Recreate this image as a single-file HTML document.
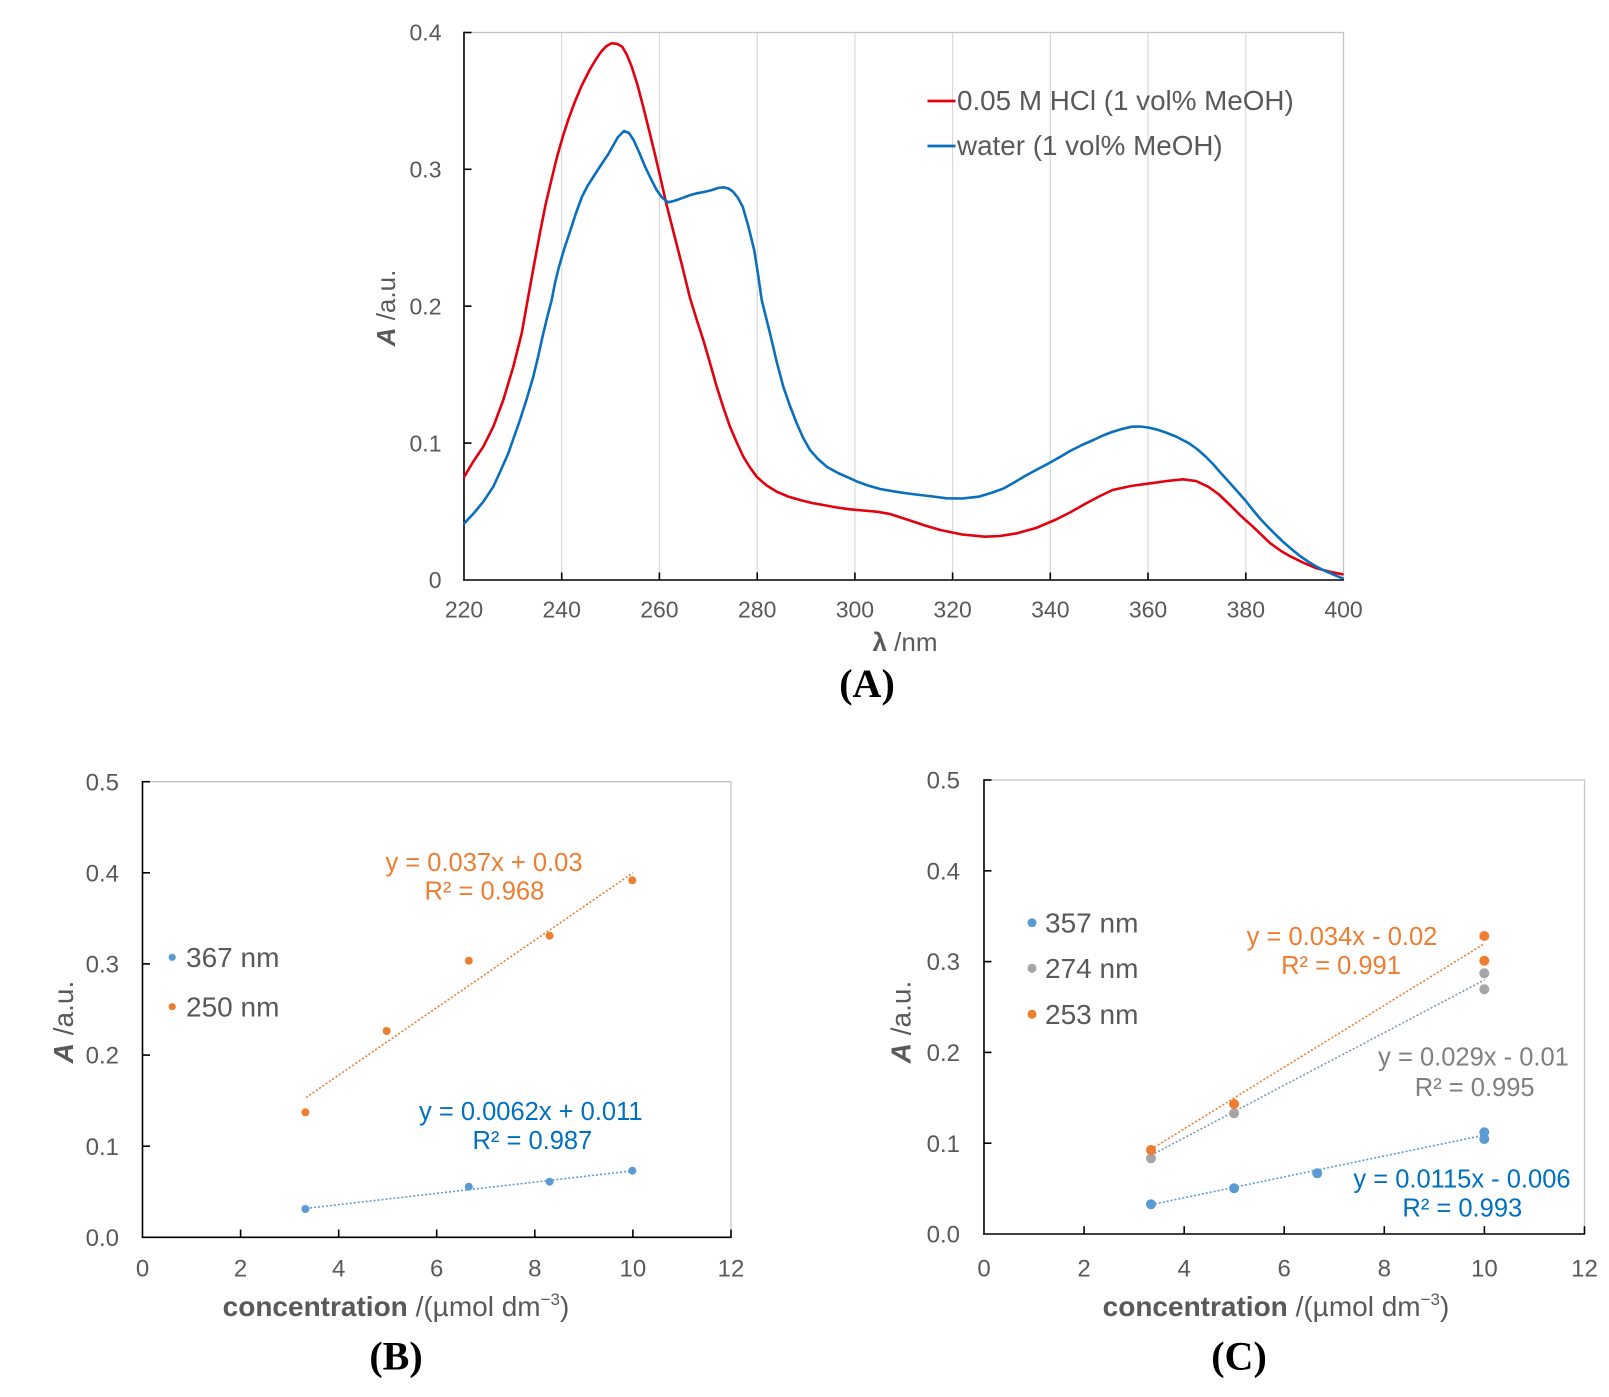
<!DOCTYPE html>
<html><head><meta charset="utf-8"><style>
html,body{margin:0;padding:0;background:#fff;}
svg{display:block;}
text{font-family:"Liberation Sans",Arial,sans-serif;fill:#595959;}
.serif{font-family:"Liberation Serif","Times New Roman",serif;fill:#000;font-weight:bold;}
</style></head><body>
<svg width="1609" height="1397" viewBox="0 0 1609 1397" xmlns="http://www.w3.org/2000/svg">
<rect width="1609" height="1397" fill="#fff"/>

<!-- ================= PANEL A ================= -->
<g stroke="#d9d9d9" stroke-width="1.2">
<line x1="561.7" y1="32.5" x2="561.7" y2="580"/>
<line x1="659.4" y1="32.5" x2="659.4" y2="580"/>
<line x1="757.2" y1="32.5" x2="757.2" y2="580"/>
<line x1="854.9" y1="32.5" x2="854.9" y2="580"/>
<line x1="952.6" y1="32.5" x2="952.6" y2="580"/>
<line x1="1050.3" y1="32.5" x2="1050.3" y2="580"/>
<line x1="1148" y1="32.5" x2="1148" y2="580"/>
<line x1="1245.8" y1="32.5" x2="1245.8" y2="580"/>
</g>
<g stroke="#c4c4c4" stroke-width="1.3" fill="none">
<polyline points="464,32.5 1343.5,32.5 1343.5,580"/>
</g>
<g stroke="#000" stroke-width="1.6">
<line x1="464" y1="31.8" x2="464" y2="580.8"/>
<line x1="463.2" y1="580" x2="1344" y2="580"/>
<line x1="464" y1="32.5" x2="471.5" y2="32.5"/>
<line x1="464" y1="169.3" x2="471.5" y2="169.3"/>
<line x1="464" y1="306.2" x2="471.5" y2="306.2"/>
<line x1="464" y1="443.1" x2="471.5" y2="443.1"/>
<line x1="561.7" y1="580" x2="561.7" y2="572.5"/>
<line x1="659.4" y1="580" x2="659.4" y2="572.5"/>
<line x1="757.2" y1="580" x2="757.2" y2="572.5"/>
<line x1="854.9" y1="580" x2="854.9" y2="572.5"/>
<line x1="952.6" y1="580" x2="952.6" y2="572.5"/>
<line x1="1050.3" y1="580" x2="1050.3" y2="572.5"/>
<line x1="1148" y1="580" x2="1148" y2="572.5"/>
<line x1="1245.8" y1="580" x2="1245.8" y2="572.5"/>
</g>

<!-- red curve -->
<polyline fill="none" stroke="#e3000f" stroke-width="2.6" stroke-linejoin="round" stroke-linecap="round" points="
464.3,476.7 473,462 483.3,446.7 493.3,426.7 503.3,400 513.3,366.7 521.7,333.3 528,298 534,265 539.9,233.3 545.5,205 551.4,180 557,157 562.8,136.7 568.5,119 574.3,103.3 581.5,86 589.6,70 595.5,60 601.1,51.7 606,46.5 611.4,43.3 617,43.8 622.2,46.7 627,55 631.7,66.7 637.5,85 643.2,106.7 649,130 654.7,153.3 660.5,178 666.2,203.3 674,234 681.5,263.3 690,298 696.8,320 703.3,340 710,363 716.7,386.7 723.5,408 730,426.7 737,443 743.3,456.7 750,467.5 756.7,476.7 766,485 776.7,491.7 788,496.5 800,500 812,503 823.3,505 837,507.5 850,509.3 863,510.5 876.6,511.7 890,514 908.5,520 925,525.5 940.4,530 962,534.5 985,536.7 1000,536 1017,533.3 1036,528 1055,520 1070,512.5 1085,504 1099,496.5 1112.6,490 1131,486 1150.8,483.3 1167,481 1182.7,479.3 1196,481 1208.2,486.7 1219,494.5 1230,505 1241,516 1252.9,526.7 1270,543 1281,551 1291,556.7 1304,563 1316.6,568.3 1330,571.8 1342.5,574.3"/>

<!-- blue curve -->
<polyline fill="none" stroke="#0a6fbd" stroke-width="2.6" stroke-linejoin="round" stroke-linecap="round" points="
464.3,523.3 474,513 483.3,501.7 493.3,486.7 500.5,471 508.3,453.3 514,437 520,420 527,398 533.3,376.7 538.5,355 543.3,333.3 547.5,316 551.7,300 555,283 559,266.7 564.5,248 570.5,230 576,213 582,196.7 587.5,186 593.4,176.7 601,165 608.8,153.3 614,144 618,137 624,131 629,133 633.6,140 639,152 645.1,166.7 651,179 656.6,190 662,197.5 668.1,202.3 674,201 681.5,198.3 689,195.5 696.8,193.3 704,192 712.1,190 718,188 723.6,187.3 728.5,188.5 733.1,191.7 738,198 742.7,206.7 748,225 754.2,250 758,274 761.7,300 765.7,316 770,333.3 776.5,361 783.3,386.7 790,406 796.7,423.3 803,437.5 810,450 818,459 826.7,466.7 838,473 850,478.3 857.4,481.7 868,485.5 880,489 895.7,491.7 908,493.5 920,495 933,496.5 946.7,498.3 962,498.5 978.6,496.7 991,493 1004,488.3 1015,482 1025,476 1037,469.5 1048.8,463.3 1060,457 1070,451 1082,445 1093.4,440 1103,435.5 1112,432 1122,429 1131.7,426.7 1140,426.5 1148,427.5 1156,429.3 1163.6,431.7 1176,436.5 1189,443.3 1197,449 1205,456 1213,464 1221,473.3 1229,482 1237,491 1245,500 1252.9,510 1260,518.5 1268,527 1276.5,535.5 1284.7,543.3 1292,549.5 1300,556 1308,561.5 1316.6,566.7 1323,570 1330,573 1336,575.7 1342.5,578.3"/>

<!-- A legend -->
<line x1="927.5" y1="101" x2="955.5" y2="101" stroke="#e3000f" stroke-width="2.8"/>
<line x1="927.5" y1="146" x2="955.5" y2="146" stroke="#0a6fbd" stroke-width="2.8"/>
<text x="957" y="110" font-size="27.8">0.05 M HCl (1 vol% MeOH)</text>
<text x="957" y="155" font-size="27.8">water (1 vol% MeOH)</text>

<!-- A tick labels -->
<g font-size="23" text-anchor="end">
<text x="441.5" y="40.7">0.4</text>
<text x="441.5" y="177.5">0.3</text>
<text x="441.5" y="314.4">0.2</text>
<text x="441.5" y="451.3">0.1</text>
<text x="441.5" y="588.2">0</text>
</g>
<g font-size="23" text-anchor="middle">
<text x="464" y="617.3">220</text>
<text x="561.7" y="617.3">240</text>
<text x="659.4" y="617.3">260</text>
<text x="757.2" y="617.3">280</text>
<text x="854.9" y="617.3">300</text>
<text x="952.6" y="617.3">320</text>
<text x="1050.3" y="617.3">340</text>
<text x="1148" y="617.3">360</text>
<text x="1245.8" y="617.3">380</text>
<text x="1343.5" y="617.3">400</text>
</g>
<text x="905" y="651" font-size="26" text-anchor="middle"><tspan font-weight="bold">λ</tspan> /nm</text>
<text transform="translate(395,308) rotate(-90)" font-size="26" text-anchor="middle"><tspan font-weight="bold" font-style="italic">A</tspan> /a.u.</text>
<text class="serif" x="867" y="697" font-size="40" text-anchor="middle">(A)</text>

<!-- ================= PANEL B ================= -->
<polyline points="142.5,781.7 731,781.7 731,1237.3" fill="none" stroke="#c4c4c4" stroke-width="1.3"/>
<g stroke="#000" stroke-width="1.6">
<line x1="142.5" y1="781" x2="142.5" y2="1238"/>
<line x1="141.7" y1="1237.3" x2="731.5" y2="1237.3"/>
<line x1="142.5" y1="781.7" x2="150" y2="781.7"/>
<line x1="142.5" y1="872.8" x2="150" y2="872.8"/>
<line x1="142.5" y1="963.9" x2="150" y2="963.9"/>
<line x1="142.5" y1="1055.1" x2="150" y2="1055.1"/>
<line x1="142.5" y1="1146.2" x2="150" y2="1146.2"/>
<line x1="240.6" y1="1237.3" x2="240.6" y2="1229.5"/>
<line x1="338.7" y1="1237.3" x2="338.7" y2="1229.5"/>
<line x1="436.7" y1="1237.3" x2="436.7" y2="1229.5"/>
<line x1="534.8" y1="1237.3" x2="534.8" y2="1229.5"/>
<line x1="632.9" y1="1237.3" x2="632.9" y2="1229.5"/>
<line x1="731" y1="1237.3" x2="731" y2="1229.5"/>
</g>
<g font-size="24" text-anchor="end">
<text x="119" y="790.3">0.5</text>
<text x="119" y="881.4">0.4</text>
<text x="119" y="972.5">0.3</text>
<text x="119" y="1063.7">0.2</text>
<text x="119" y="1154.8">0.1</text>
<text x="119" y="1245.9">0.0</text>
</g>
<g font-size="24" text-anchor="middle">
<text x="142.5" y="1276.6">0</text>
<text x="240.6" y="1276.6">2</text>
<text x="338.7" y="1276.6">4</text>
<text x="436.7" y="1276.6">6</text>
<text x="534.8" y="1276.6">8</text>
<text x="632.9" y="1276.6">10</text>
<text x="731" y="1276.6">12</text>
</g>
<!-- trendlines B -->
<line x1="306" y1="1097.6" x2="632.9" y2="872.8" stroke="#ed7d31" stroke-width="1.6" stroke-dasharray="2 2"/>
<line x1="306" y1="1208.4" x2="632.9" y2="1170.8" stroke="#5b9bd5" stroke-width="1.6" stroke-dasharray="2 2"/>
<g fill="#ed7d31">
<circle cx="305.4" cy="1112.3" r="4"/>
<circle cx="386.6" cy="1031" r="4"/>
<circle cx="468.8" cy="960.7" r="4"/>
<circle cx="549.6" cy="935.7" r="4"/>
<circle cx="632.3" cy="880.3" r="4"/>
</g>
<g fill="#5b9bd5">
<circle cx="305.4" cy="1209" r="4"/>
<circle cx="468.8" cy="1186.7" r="4"/>
<circle cx="549.6" cy="1181.7" r="4"/>
<circle cx="632.3" cy="1170.7" r="4"/>
</g>
<!-- B legend -->
<circle cx="172.2" cy="957.3" r="3.6" fill="#5b9bd5"/>
<circle cx="172.2" cy="1006.7" r="3.6" fill="#ed7d31"/>
<text x="186" y="967.2" font-size="28">367 nm</text>
<text x="186" y="1016.6" font-size="28">250 nm</text>
<!-- B equations -->
<g font-size="25.5" text-anchor="middle">
<text x="484" y="871" style="fill:#ed7d31">y = 0.037x + 0.03</text>
<text x="484.4" y="899.5" style="fill:#ed7d31">R² = 0.968</text>
<text x="530.8" y="1120" style="fill:#0070c0">y = 0.0062x + 0.011</text>
<text x="532.4" y="1149" style="fill:#0070c0">R² = 0.987</text>
</g>
<text transform="translate(73,1022) rotate(-90)" font-size="28" text-anchor="middle"><tspan font-weight="bold" font-style="italic">A</tspan> /a.u.</text>
<text x="396" y="1316" font-size="28" text-anchor="middle"><tspan font-weight="bold">concentration</tspan> /(µmol dm<tspan font-size="17" dy="-11">−3</tspan><tspan dy="11">)</tspan></text>
<text class="serif" x="396" y="1369.5" font-size="40" text-anchor="middle">(B)</text>

<!-- ================= PANEL C ================= -->
<polyline points="984,780 1584.5,780 1584.5,1234" fill="none" stroke="#c4c4c4" stroke-width="1.3"/>
<g stroke="#000" stroke-width="1.6">
<line x1="984" y1="779.3" x2="984" y2="1234.8"/>
<line x1="983.2" y1="1234" x2="1585" y2="1234"/>
<line x1="984" y1="780" x2="991.5" y2="780"/>
<line x1="984" y1="870.8" x2="991.5" y2="870.8"/>
<line x1="984" y1="961.6" x2="991.5" y2="961.6"/>
<line x1="984" y1="1052.4" x2="991.5" y2="1052.4"/>
<line x1="984" y1="1143.2" x2="991.5" y2="1143.2"/>
<line x1="1084.1" y1="1234" x2="1084.1" y2="1226.2"/>
<line x1="1184.2" y1="1234" x2="1184.2" y2="1226.2"/>
<line x1="1284.2" y1="1234" x2="1284.2" y2="1226.2"/>
<line x1="1384.3" y1="1234" x2="1384.3" y2="1226.2"/>
<line x1="1484.4" y1="1234" x2="1484.4" y2="1226.2"/>
<line x1="1584.5" y1="1234" x2="1584.5" y2="1226.2"/>
</g>
<g font-size="24" text-anchor="end">
<text x="960" y="788.6">0.5</text>
<text x="960" y="879.4">0.4</text>
<text x="960" y="970.2">0.3</text>
<text x="960" y="1061">0.2</text>
<text x="960" y="1151.8">0.1</text>
<text x="960" y="1242.6">0.0</text>
</g>
<g font-size="24" text-anchor="middle">
<text x="984" y="1276.6">0</text>
<text x="1084.1" y="1276.6">2</text>
<text x="1184.2" y="1276.6">4</text>
<text x="1284.2" y="1276.6">6</text>
<text x="1384.3" y="1276.6">8</text>
<text x="1484.4" y="1276.6">10</text>
<text x="1584.5" y="1276.6">12</text>
</g>
<!-- trendlines C -->
<line x1="1151" y1="1149.3" x2="1484.8" y2="943.4" stroke="#ed7d31" stroke-width="1.6" stroke-dasharray="2 2"/>
<line x1="1151" y1="1155.3" x2="1484.8" y2="979.8" stroke="#7f95b3" stroke-width="1.6" stroke-dasharray="2 2"/>
<line x1="1151" y1="1204.7" x2="1484.8" y2="1135" stroke="#5b9bd5" stroke-width="1.6" stroke-dasharray="2 2"/>
<g fill="#5b9bd5">
<circle cx="1151" cy="1204.3" r="5"/>
<circle cx="1234.1" cy="1188.3" r="5"/>
<circle cx="1317.2" cy="1173.3" r="5"/>
<circle cx="1484.3" cy="1132.3" r="5"/>
<circle cx="1484.3" cy="1139" r="5"/>
</g>
<g fill="#a5a5a5">
<circle cx="1151" cy="1158.3" r="5"/>
<circle cx="1234.1" cy="1113.3" r="5"/>
<circle cx="1484.3" cy="973.3" r="5"/>
<circle cx="1484.3" cy="989.3" r="5"/>
</g>
<g fill="#ed7d31">
<circle cx="1151" cy="1150" r="5"/>
<circle cx="1234.1" cy="1104" r="5"/>
<circle cx="1484.3" cy="936" r="5"/>
<circle cx="1484.3" cy="960.7" r="5"/>
</g>
<!-- C legend -->
<circle cx="1032" cy="922.7" r="4.5" fill="#5b9bd5"/>
<circle cx="1032" cy="968.3" r="4.5" fill="#a5a5a5"/>
<circle cx="1032" cy="1014.3" r="4.5" fill="#ed7d31"/>
<text x="1045" y="932.6" font-size="28">357 nm</text>
<text x="1045" y="978.2" font-size="28">274 nm</text>
<text x="1045" y="1024.2" font-size="28">253 nm</text>
<!-- C equations -->
<g font-size="25.5" text-anchor="middle">
<text x="1342" y="945" style="fill:#ed7d31">y = 0.034x - 0.02</text>
<text x="1341" y="974" style="fill:#ed7d31">R² = 0.991</text>
<text x="1473.5" y="1065.5" style="fill:#7f7f7f">y = 0.029x - 0.01</text>
<text x="1474.7" y="1096" style="fill:#7f7f7f">R² = 0.995</text>
<text x="1462" y="1187.5" style="fill:#0070c0">y = 0.0115x - 0.006</text>
<text x="1462.3" y="1216.5" style="fill:#0070c0">R² = 0.993</text>
</g>
<text transform="translate(910.6,1022) rotate(-90)" font-size="28" text-anchor="middle"><tspan font-weight="bold" font-style="italic">A</tspan> /a.u.</text>
<text x="1276" y="1316" font-size="28" text-anchor="middle"><tspan font-weight="bold">concentration</tspan> /(µmol dm<tspan font-size="17" dy="-11">−3</tspan><tspan dy="11">)</tspan></text>
<text class="serif" x="1239" y="1369.5" font-size="40" text-anchor="middle">(C)</text>
</svg>
</body></html>
